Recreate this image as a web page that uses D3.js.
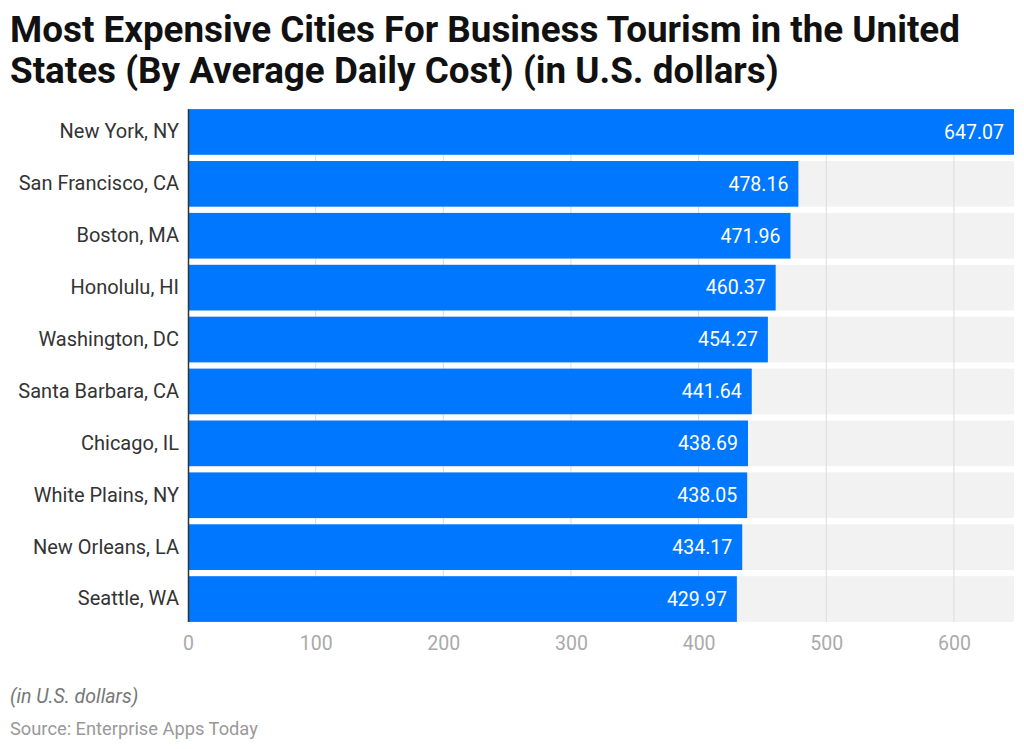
<!DOCTYPE html>
<html>
<head>
<meta charset="utf-8">
<script src="https://cdn.jsdelivr.net/npm/d3@7"></script>
<style>
  body { margin: 0; background: #fff; font-family: Roboto, sans-serif; }
  .axis path.domain { display: none; }
  .axis line { display: none; }
</style>
</head>
<body>
<div id="chart"></div>
<script>
const cities = ['New York, NY', 'San Francisco, CA', 'Boston, MA', 'Honolulu, HI', 'Washington, DC',
  'Santa Barbara, CA', 'Chicago, IL', 'White Plains, NY', 'New Orleans, LA', 'Seattle, WA'];
const costs = [647.07, 478.16, 471.96, 460.37, 454.27, 441.64, 438.69, 438.05, 434.17, 429.97];
const xTicks = [0, 100, 200, 300, 400, 500, 600];
const titleLines = ['Most Expensive Cities For Business Tourism in the United',
  'States (By Average Daily Cost) (in U.S. dollars)'];

const width = 1024, height = 749;
const margin = { top: 109, right: 10, bottom: 127, left: 188 };

const data = cities.map((c, i) => ({ city: c, cost: costs[i] }));

const svg = d3.select('#chart').append('svg')
  .attr('width', width)
  .attr('height', height);

// title
svg.append('g').selectAll('text')
  .data(titleLines)
  .join('text')
  .attr('x', 10)
  .attr('y', (d, i) => 42 + i * 41)
  .attr('font-size', 36.8)
  .attr('font-weight', 700)
  .attr('fill', '#111')
  .text((d) => d);

const xScale = d3.scaleLinear()
  .domain([0, d3.max(costs)])
  .range([margin.left, width - margin.right]);

const yScale = d3.scaleBand()
  .domain(cities)
  .range([margin.top - 3, height - margin.bottom + 3])
  .paddingInner(0.12)
  .paddingOuter(0.06);

// background bands
svg.append('g').selectAll('rect')
  .data(data)
  .join('rect')
  .attr('x', xScale(0))
  .attr('y', (d) => yScale(d.city))
  .attr('width', xScale.range()[1] - xScale(0))
  .attr('height', yScale.bandwidth())
  .attr('fill', '#f2f2f2');

// grid lines
const y0 = yScale(cities[0]);
const y1 = yScale(cities[cities.length - 1]) + yScale.bandwidth();
svg.append('g').selectAll('line')
  .data(xTicks.slice(1))
  .join('line')
  .attr('x1', (d) => xScale(d))
  .attr('x2', (d) => xScale(d))
  .attr('y1', y0)
  .attr('y2', y1)
  .attr('stroke', '#dcdcdc')
  .attr('stroke-width', 1);

// bars
svg.append('g').selectAll('rect')
  .data(data)
  .join('rect')
  .attr('x', xScale(0))
  .attr('y', (d) => yScale(d.city))
  .attr('width', (d) => xScale(d.cost) - xScale(0))
  .attr('height', yScale.bandwidth())
  .attr('fill', '#0077ff');

// value labels
svg.append('g').selectAll('text')
  .data(data)
  .join('text')
  .attr('x', (d) => xScale(d.cost) - 10)
  .attr('y', (d) => yScale(d.city) + yScale.bandwidth() / 2)
  .attr('dy', '0.35em')
  .attr('text-anchor', 'end')
  .attr('font-size', 19.5)
  .attr('fill', '#fff')
  .text((d) => d.cost.toFixed(2));

// y axis
const yAxis = svg.append('g')
  .attr('class', 'axis')
  .attr('transform', `translate(${margin.left},0)`)
  .call(d3.axisLeft(yScale).tickSize(0).tickPadding(9));
yAxis.selectAll('text').attr('font-size', 20).attr('fill', '#333').attr('font-family', 'Roboto, sans-serif');

svg.append('line')
  .attr('x1', margin.left + 0.5)
  .attr('x2', margin.left + 0.5)
  .attr('y1', y0)
  .attr('y2', y1)
  .attr('stroke', '#333')
  .attr('stroke-width', 1.5);

// x axis
const xAxis = svg.append('g')
  .attr('class', 'axis')
  .attr('transform', `translate(0,${y1})`)
  .call(d3.axisBottom(xScale).tickValues(xTicks).tickSize(0).tickPadding(14));
xAxis.selectAll('text').attr('font-size', 19.5).attr('fill', '#aaa').attr('font-family', 'Roboto, sans-serif');

// footer
svg.append('text')
  .attr('x', 10)
  .attr('y', 703)
  .attr('font-size', 19.5)
  .attr('font-style', 'italic')
  .attr('fill', '#777')
  .text('(in U.S. dollars)');

svg.append('text')
  .attr('x', 10)
  .attr('y', 735)
  .attr('font-size', 18.3)
  .attr('fill', '#999')
  .text('Source: Enterprise Apps Today');
</script>
</body>
</html>
